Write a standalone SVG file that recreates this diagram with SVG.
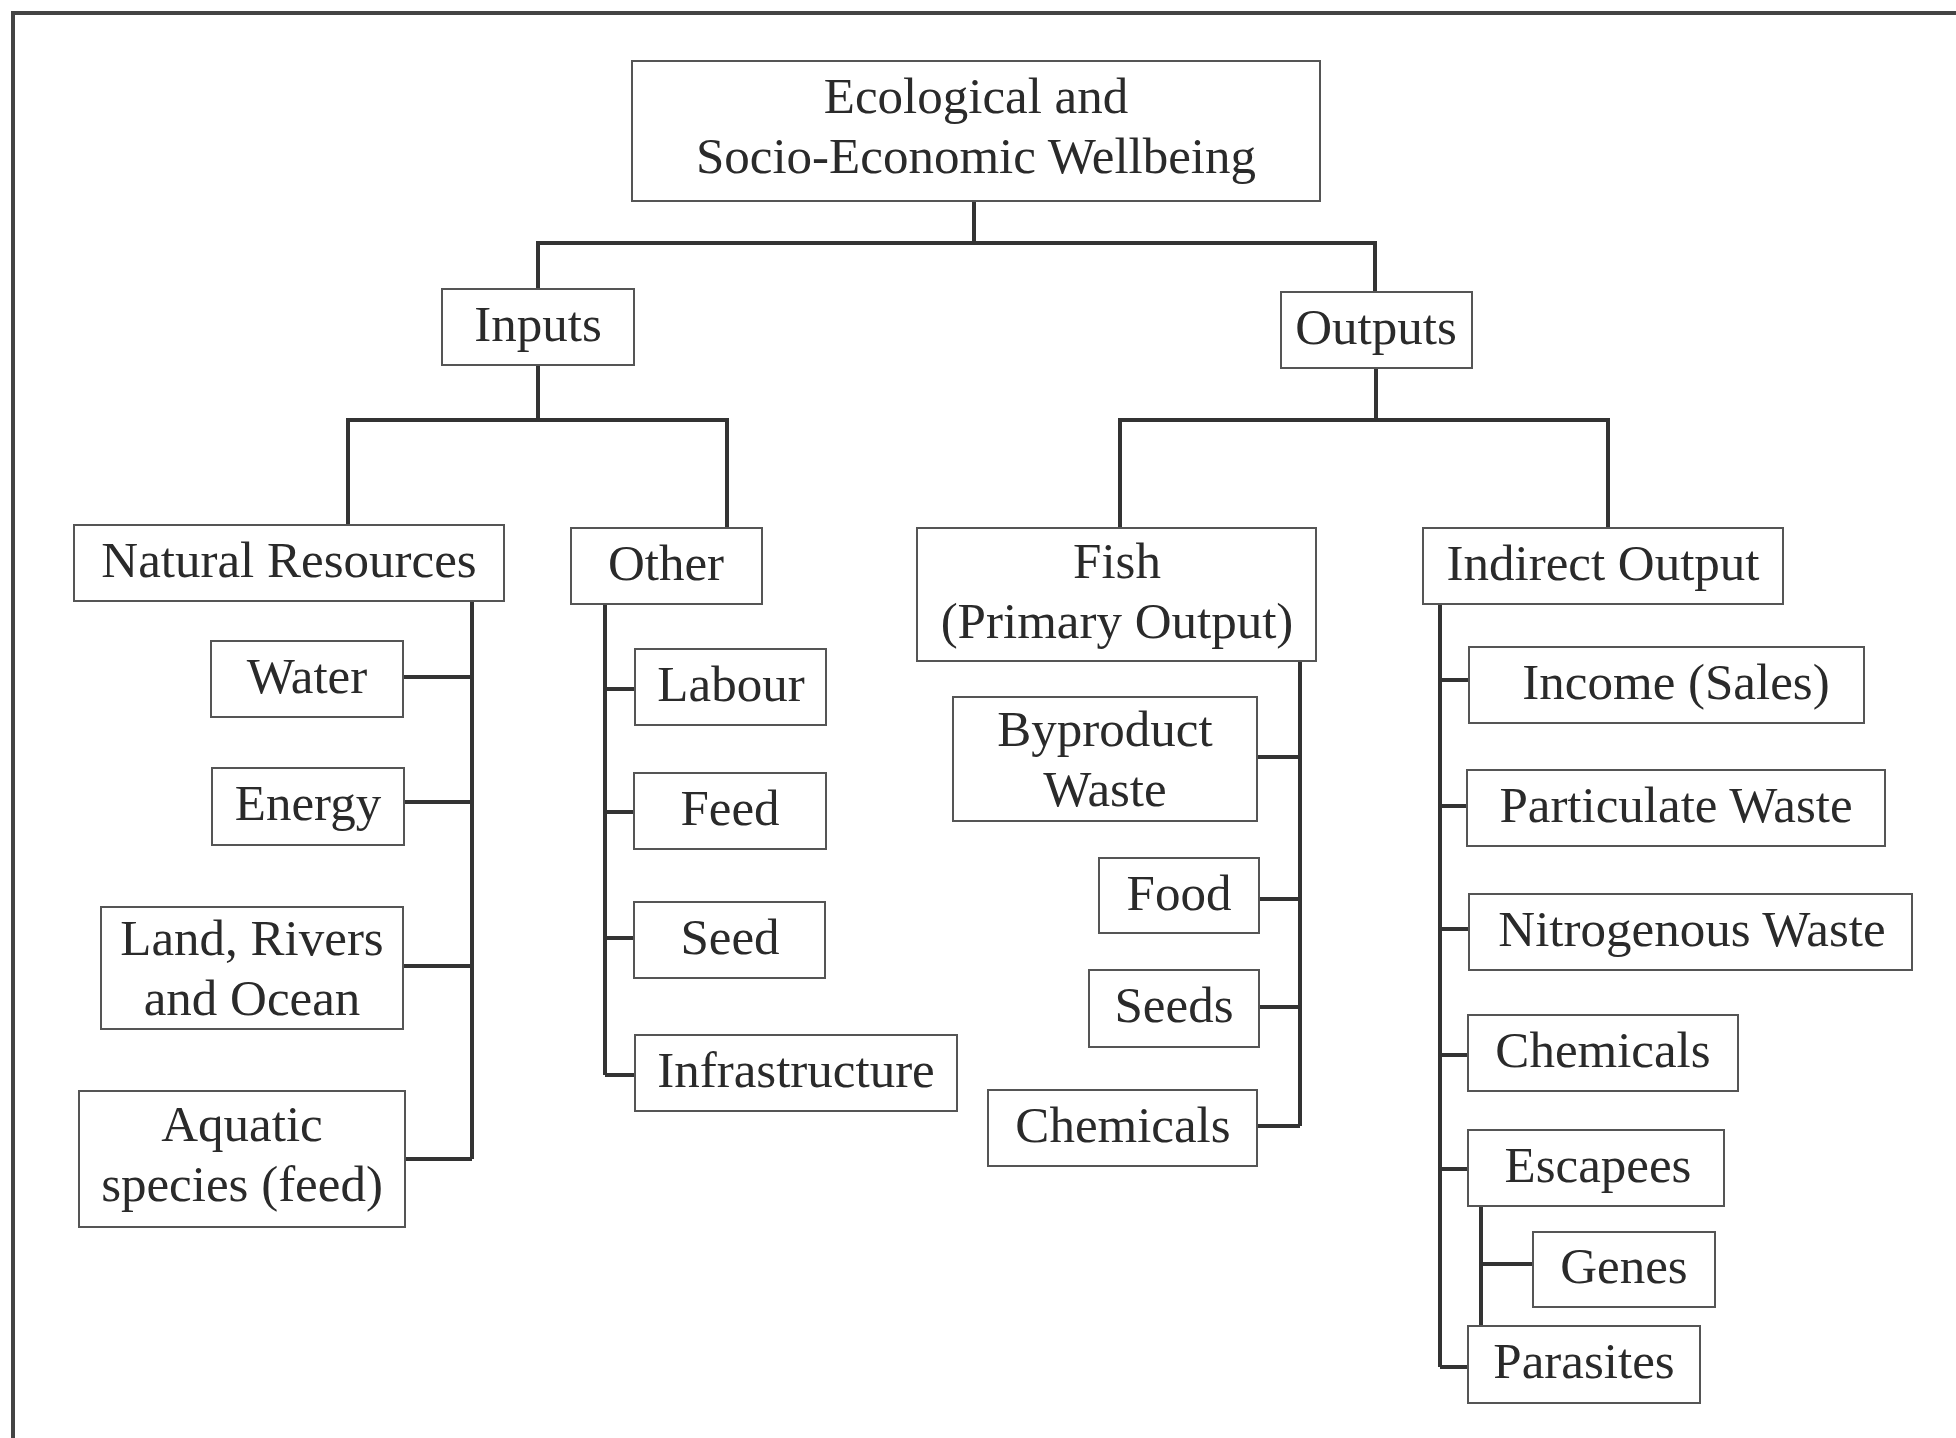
<svg xmlns="http://www.w3.org/2000/svg" width="1956" height="1438" viewBox="0 0 1956 1438">
<style>
.b{fill:#fff;stroke:#555;stroke-width:2}
.t{font-family:"Liberation Serif",serif;font-size:51px;fill:#2a2a2a;text-anchor:middle}
.c{fill:none;stroke:#333;stroke-width:4}
</style>
<rect width="1956" height="1438" fill="#fff"/>
<rect x="13" y="13" width="1960" height="1440" fill="none" stroke="#444" stroke-width="4"/>
<g id="connectors" class="c">
<path d="M974 201V243M538 289V243H1375V292"/>
<path d="M538 365V420M348 525V420H727V528"/>
<path d="M1376 368V420M1120 528V420H1608V528"/>
<path d="M472 601V1159M403 677H472M404 802H472M403 966H472M405 1159H472"/>
<path d="M605 604V1075M605 689H635M605 812H634M605 938H634M605 1075H635"/>
<path d="M1300 661V1126M1257 757H1300M1259 899H1300M1259 1007H1300M1257 1126H1300"/>
<path d="M1440 604V1367M1440 680H1469M1440 806H1467M1440 929H1469M1440 1055H1468M1440 1169H1468M1440 1367H1468"/>
<path d="M1481 1206V1326M1481 1264H1533"/>
</g>
<g id="top"><rect class="b" x="632" y="61" width="688" height="140"/><text class="t" x="976" y="113">Ecological and</text><text class="t" x="976" y="173">Socio-Economic Wellbeing</text></g>
<g id="inputs"><rect class="b" x="442" y="289" width="192" height="76"/><text class="t" x="538" y="341">Inputs</text></g>
<g id="outputs"><rect class="b" x="1281" y="292" width="191" height="76"/><text class="t" x="1376" y="344">Outputs</text></g>
<g id="natural"><rect class="b" x="74" y="525" width="430" height="76"/><text class="t" x="289" y="577">Natural Resources</text></g>
<g id="other"><rect class="b" x="571" y="528" width="191" height="76"/><text class="t" x="666" y="580">Other</text></g>
<g id="fish"><rect class="b" x="917" y="528" width="399" height="133"/><text class="t" x="1117" y="578">Fish</text><text class="t" x="1117" y="638">(Primary Output)</text></g>
<g id="indirect"><rect class="b" x="1423" y="528" width="360" height="76"/><text class="t" x="1603" y="580">Indirect Output</text></g>
<g id="water"><rect class="b" x="211" y="641" width="192" height="76"/><text class="t" x="307" y="693">Water</text></g>
<g id="energy"><rect class="b" x="212" y="768" width="192" height="77"/><text class="t" x="308" y="820">Energy</text></g>
<g id="land"><rect class="b" x="101" y="907" width="302" height="122"/><text class="t" x="252" y="955">Land, Rivers</text><text class="t" x="252" y="1015">and Ocean</text></g>
<g id="aquatic"><rect class="b" x="79" y="1091" width="326" height="136"/><text class="t" x="242" y="1141">Aquatic</text><text class="t" x="242" y="1201">species (feed)</text></g>
<g id="labour"><rect class="b" x="635" y="649" width="191" height="76"/><text class="t" x="731" y="701">Labour</text></g>
<g id="feed"><rect class="b" x="634" y="773" width="192" height="76"/><text class="t" x="730" y="825">Feed</text></g>
<g id="seed"><rect class="b" x="634" y="902" width="191" height="76"/><text class="t" x="730" y="954">Seed</text></g>
<g id="infra"><rect class="b" x="635" y="1035" width="322" height="76"/><text class="t" x="796" y="1087">Infrastructure</text></g>
<g id="byproduct"><rect class="b" x="953" y="697" width="304" height="124"/><text class="t" x="1105" y="746">Byproduct</text><text class="t" x="1105" y="806">Waste</text></g>
<g id="food"><rect class="b" x="1099" y="858" width="160" height="75"/><text class="t" x="1179" y="910">Food</text></g>
<g id="seeds"><rect class="b" x="1089" y="970" width="170" height="77"/><text class="t" x="1174" y="1022">Seeds</text></g>
<g id="chem1"><rect class="b" x="988" y="1090" width="269" height="76"/><text class="t" x="1123" y="1142">Chemicals</text></g>
<g id="income"><rect class="b" x="1469" y="647" width="395" height="76"/><text class="t" x="1676" y="699">Income (Sales)</text></g>
<g id="particulate"><rect class="b" x="1467" y="770" width="418" height="76"/><text class="t" x="1676" y="822">Particulate Waste</text></g>
<g id="nitrogen"><rect class="b" x="1469" y="894" width="443" height="76"/><text class="t" x="1692" y="946">Nitrogenous Waste</text></g>
<g id="chem2"><rect class="b" x="1468" y="1015" width="270" height="76"/><text class="t" x="1603" y="1067">Chemicals</text></g>
<g id="escapees"><rect class="b" x="1468" y="1130" width="256" height="76"/><text class="t" x="1598" y="1182">Escapees</text></g>
<g id="genes"><rect class="b" x="1533" y="1232" width="182" height="75"/><text class="t" x="1624" y="1283">Genes</text></g>
<g id="parasites"><rect class="b" x="1468" y="1326" width="232" height="77"/><text class="t" x="1584" y="1378">Parasites</text></g>
</svg>
